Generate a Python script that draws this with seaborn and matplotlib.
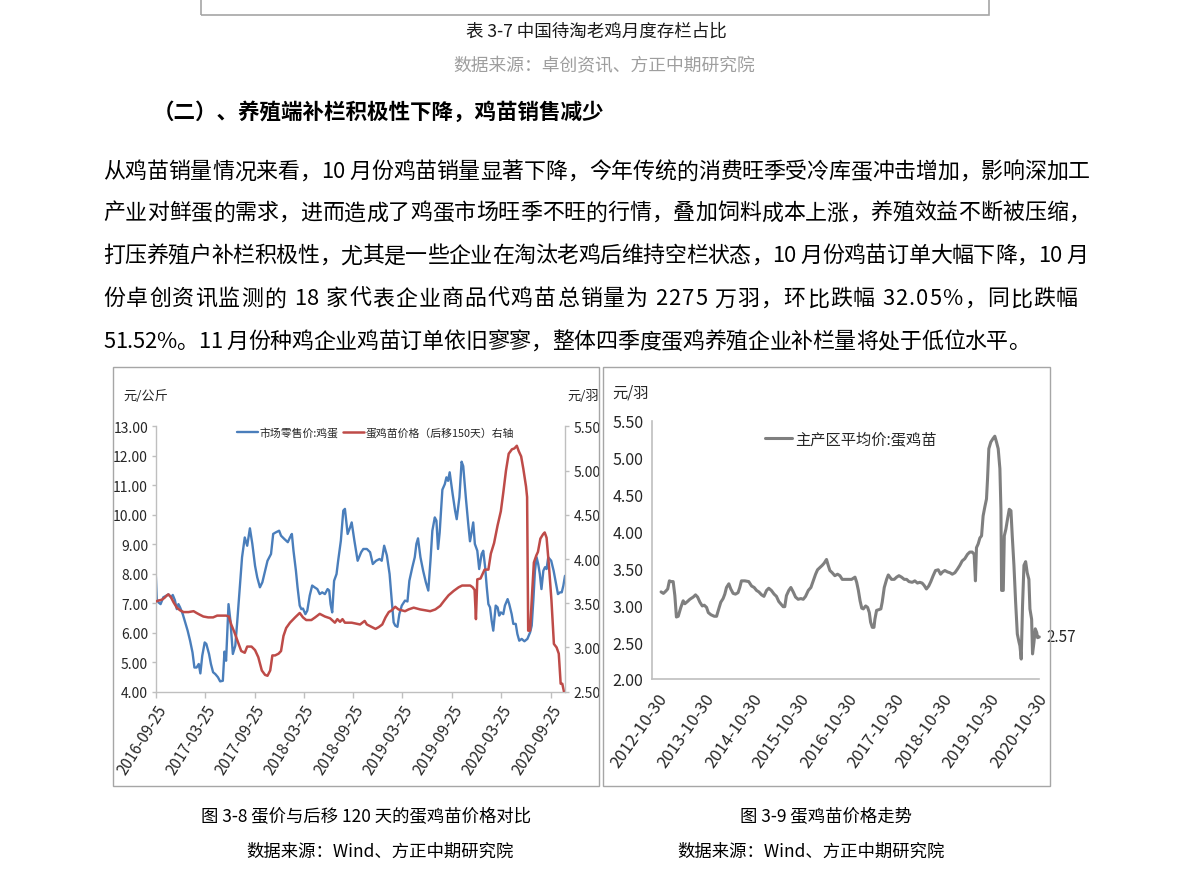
import matplotlib
matplotlib.use("Agg")
import matplotlib.pyplot as plt
from matplotlib.patches import Rectangle
from matplotlib.font_manager import FontProperties
from matplotlib.ticker import FormatStrFormatter
import seaborn as sns
import pandas as pd

# ---------------- data: left chart (egg retail price, yuan/kg) ----------------
egg_dates = [
    "2016-09-25", "2016-09-29", "2016-10-05", "2016-10-13", "2016-10-23", "2016-11-02", "2016-11-11", "2016-11-21", "2016-11-27", "2016-12-05",
    "2016-12-12", "2016-12-18", "2016-12-24", "2017-01-03", "2017-01-12", "2017-01-21", "2017-01-30", "2017-02-08", "2017-02-15", "2017-02-23",
    "2017-03-03", "2017-03-09", "2017-03-16", "2017-03-25", "2017-03-31", "2017-04-10", "2017-04-17", "2017-04-25", "2017-05-03", "2017-05-13",
    "2017-05-21", "2017-05-31", "2017-06-06", "2017-06-12", "2017-06-21", "2017-06-28", "2017-07-07", "2017-07-16", "2017-07-23", "2017-08-01",
    "2017-08-10", "2017-08-20", "2017-08-29", "2017-09-08", "2017-09-17", "2017-09-27", "2017-10-05", "2017-10-15", "2017-10-24", "2017-11-03",
    "2017-11-12", "2017-11-25", "2017-12-03", "2017-12-12", "2017-12-25", "2018-01-01", "2018-01-13", "2018-01-26", "2018-02-03", "2018-02-10",
    "2018-02-16", "2018-02-25", "2018-03-03", "2018-03-11", "2018-03-17", "2018-03-23", "2018-04-01", "2018-04-08", "2018-04-17", "2018-04-26",
    "2018-05-05", "2018-05-15", "2018-05-24", "2018-06-02", "2018-06-12", "2018-06-22", "2018-06-28", "2018-07-03", "2018-07-09", "2018-07-16",
    "2018-07-25", "2018-07-31", "2018-08-10", "2018-08-19", "2018-08-25", "2018-09-04", "2018-09-13", "2018-09-19", "2018-09-29", "2018-10-11",
    "2018-10-24", "2018-11-01", "2018-11-14", "2018-11-26", "2018-12-06", "2018-12-18", "2018-12-31", "2019-01-08", "2019-01-17", "2019-01-27",
    "2019-02-06", "2019-02-14", "2019-02-21", "2019-02-27", "2019-03-07", "2019-03-14", "2019-03-23", "2019-04-04", "2019-04-13", "2019-04-20",
    "2019-05-01", "2019-05-10", "2019-05-16", "2019-05-22", "2019-05-31", "2019-06-10", "2019-06-20", "2019-06-29", "2019-07-07", "2019-07-14",
    "2019-07-23", "2019-07-29", "2019-08-04", "2019-08-10", "2019-08-20", "2019-08-29", "2019-09-04", "2019-09-10", "2019-09-16", "2019-09-27",
    "2019-10-06", "2019-10-12", "2019-10-22", "2019-10-30", "2019-11-05", "2019-11-15", "2019-11-24", "2019-11-30", "2019-12-06", "2019-12-12",
    "2019-12-18", "2019-12-27", "2020-01-03", "2020-01-12", "2020-01-18", "2020-01-25", "2020-01-31", "2020-02-06", "2020-02-12", "2020-02-18",
    "2020-02-24", "2020-03-04", "2020-03-11", "2020-03-17", "2020-03-23", "2020-04-01", "2020-04-07", "2020-04-17", "2020-04-23", "2020-05-02",
    "2020-05-08", "2020-05-17", "2020-05-23", "2020-05-30", "2020-06-08", "2020-06-18", "2020-06-29", "2020-07-09", "2020-07-15", "2020-07-21",
    "2020-07-27", "2020-08-02", "2020-08-08", "2020-08-14", "2020-08-20", "2020-08-27", "2020-09-02", "2020-09-08", "2020-09-14", "2020-09-25",
    "2020-10-04", "2020-10-12", "2020-10-20", "2020-10-28", "2020-11-03", "2020-11-09", "2020-11-15",
]
egg_price = [
    8.05, 7.14, 7.03, 6.97, 7.20, 7.25, 7.30, 7.20, 7.28, 7.10,
    6.80, 6.97, 6.86, 6.63, 6.35, 6.07, 5.73, 5.33, 4.82, 4.82,
    4.94, 4.62, 5.22, 5.67, 5.62, 5.28, 4.94, 4.66, 4.60, 4.49,
    4.35, 4.37, 5.36, 5.05, 6.97, 6.41, 5.28, 5.56, 6.35, 7.48,
    8.56, 9.23, 8.95, 9.54, 9.01, 8.27, 7.88, 7.54, 7.71, 8.10,
    8.44, 8.67, 9.35, 9.40, 9.46, 9.29, 9.18, 9.07, 9.23, 9.35,
    8.78, 8.10, 7.54, 6.92, 6.80, 6.82, 6.63, 6.75, 7.26, 7.60,
    7.54, 7.48, 7.31, 7.37, 7.31, 7.48, 7.43, 6.97, 6.69, 7.76,
    7.99, 8.44, 9.12, 10.14, 10.20, 9.35, 9.57, 9.74, 9.12, 8.44,
    8.73, 8.84, 8.84, 8.73, 8.33, 8.44, 8.50, 8.44, 8.95, 8.62,
    7.99, 7.09, 6.35, 6.24, 6.20, 6.63, 6.92, 7.09, 7.06, 7.76,
    8.22, 8.56, 9.01, 9.20, 8.56, 8.10, 7.71, 7.43, 8.44, 9.46,
    9.91, 9.80, 8.84, 9.40, 10.85, 11.04, 11.27, 11.15, 11.44, 10.70,
    10.14, 9.85, 10.60, 11.80, 11.65, 10.55, 9.65, 9.10, 9.40, 9.74,
    9.01, 8.78, 8.16, 8.67, 8.78, 8.22, 7.54, 6.97, 6.86, 6.41,
    6.07, 6.92, 6.86, 6.58, 6.69, 6.63, 6.92, 7.14, 6.97, 6.63,
    6.30, 6.30, 5.96, 5.73, 5.79, 5.71, 5.79, 6.01, 6.24, 7.09,
    8.10, 8.56, 8.33, 7.99, 7.48, 8.10, 8.22, 8.16, 8.56, 8.44,
    8.10, 7.71, 7.31, 7.37, 7.37, 7.60, 7.93,
]

# ---------------- data: left chart (chick price shifted, yuan/chick, right axis) ----------------
chick_shift_dates = [
    "2016-09-25", "2016-10-05", "2016-10-18", "2016-10-27", "2016-11-06", "2016-11-11", "2016-11-20", "2016-11-30", "2016-12-12", "2016-12-24",
    "2017-01-06", "2017-01-24", "2017-02-12", "2017-02-23", "2017-03-07", "2017-03-20", "2017-04-07", "2017-04-25", "2017-05-10", "2017-05-26",
    "2017-06-12", "2017-06-22", "2017-07-01", "2017-07-13", "2017-07-26", "2017-08-07", "2017-08-20", "2017-08-29", "2017-09-14", "2017-09-27",
    "2017-10-09", "2017-10-22", "2017-11-03", "2017-11-12", "2017-11-22", "2017-11-30", "2017-12-10", "2017-12-23", "2018-01-01", "2018-01-10",
    "2018-01-20", "2018-02-03", "2018-02-22", "2018-03-11", "2018-03-23", "2018-04-04", "2018-04-23", "2018-05-07", "2018-05-24", "2018-06-12",
    "2018-07-01", "2018-07-19", "2018-07-28", "2018-08-07", "2018-08-16", "2018-08-25", "2018-09-19", "2018-10-20", "2018-11-06", "2018-11-14",
    "2018-12-03", "2018-12-16", "2018-12-28", "2019-01-10", "2019-01-22", "2019-02-03", "2019-02-14", "2019-02-27", "2019-03-11", "2019-04-04",
    "2019-04-17", "2019-05-06", "2019-05-30", "2019-06-18", "2019-07-06", "2019-07-25", "2019-08-12", "2019-08-27", "2019-09-12", "2019-10-01",
    "2019-10-19", "2019-11-01", "2019-11-19", "2019-12-01", "2019-12-10", "2019-12-17", "2019-12-22", "2019-12-27", "2020-01-08", "2020-01-17",
    "2020-01-23", "2020-02-06", "2020-02-15", "2020-02-27", "2020-03-11", "2020-03-23", "2020-04-01", "2020-04-11", "2020-04-21", "2020-05-03",
    "2020-05-12", "2020-05-21", "2020-05-28", "2020-06-06", "2020-06-14", "2020-06-24", "2020-06-28", "2020-07-02", "2020-07-09", "2020-07-17",
    "2020-07-23", "2020-08-01", "2020-08-07", "2020-08-16", "2020-08-26", "2020-09-01", "2020-09-08", "2020-09-17", "2020-09-26", "2020-10-05",
    "2020-10-15", "2020-10-23", "2020-10-30", "2020-11-05", "2020-11-12",
]
chick_shift_price = [
    3.52, 3.53, 3.54, 3.56, 3.59, 3.60, 3.57, 3.51, 3.45, 3.42,
    3.40, 3.40, 3.41, 3.39, 3.37, 3.35, 3.34, 3.34, 3.36, 3.36,
    3.36, 3.35, 3.26, 3.17, 3.06, 2.96, 2.94, 3.01, 3.01, 2.97,
    2.89, 2.74, 2.69, 2.68, 2.74, 2.91, 2.91, 2.93, 2.96, 3.13,
    3.22, 3.28, 3.34, 3.39, 3.34, 3.31, 3.31, 3.34, 3.38, 3.35,
    3.33, 3.28, 3.32, 3.29, 3.32, 3.28, 3.28, 3.26, 3.30, 3.26,
    3.23, 3.21, 3.23, 3.26, 3.34, 3.40, 3.42, 3.46, 3.43, 3.41,
    3.43, 3.45, 3.43, 3.42, 3.41, 3.43, 3.47, 3.53, 3.59, 3.64,
    3.68, 3.70, 3.70, 3.70, 3.68, 3.65, 3.32, 3.77, 3.78, 3.84,
    3.88, 3.88, 4.06, 4.18, 4.38, 4.54, 4.75, 5.00, 5.19, 5.24,
    5.25, 5.28, 5.22, 5.16, 5.02, 4.82, 4.70, 3.19, 3.19, 3.64,
    3.96, 4.04, 4.08, 4.23, 4.28, 4.30, 4.24, 3.91, 3.53, 3.04,
    3.00, 2.93, 2.59, 2.59, 2.49,
]

# ---------------- data: right chart (layer chick avg price, yuan/chick) ----------------
chick_dates = [
    "2012-12-03", "2012-12-21", "2013-01-08", "2013-01-23", "2013-02-05", "2013-02-18", "2013-03-06", "2013-03-19", "2013-03-31", "2013-04-14",
    "2013-05-04", "2013-05-22", "2013-06-04", "2013-06-24", "2013-07-12", "2013-08-07", "2013-08-25", "2013-09-10", "2013-09-28", "2013-10-16",
    "2013-10-31", "2013-11-18", "2013-12-01", "2013-12-22", "2014-01-16", "2014-02-03", "2014-02-16", "2014-03-07", "2014-03-25", "2014-04-07",
    "2014-04-20", "2014-05-08", "2014-05-23", "2014-06-10", "2014-06-28", "2014-07-18", "2014-07-31", "2014-08-13", "2014-09-08", "2014-10-08",
    "2014-10-30", "2014-11-19", "2014-12-07", "2014-12-25", "2015-01-15", "2015-02-02", "2015-02-22", "2015-03-11", "2015-03-31", "2015-04-21",
    "2015-05-09", "2015-05-27", "2015-06-11", "2015-06-30", "2015-07-12", "2015-07-25", "2015-08-12", "2015-08-28", "2015-09-15", "2015-10-03",
    "2015-10-23", "2015-11-13", "2015-12-01", "2015-12-19", "2016-01-09", "2016-01-29", "2016-02-16", "2016-03-05", "2016-03-20", "2016-04-07",
    "2016-04-25", "2016-05-10", "2016-05-28", "2016-06-10", "2016-06-23", "2016-07-11", "2016-07-31", "2016-08-21", "2016-09-08", "2016-09-26",
    "2016-10-16", "2016-11-11", "2016-12-07", "2017-01-02", "2017-01-15", "2017-01-28", "2017-02-10", "2017-02-23", "2017-03-07", "2017-03-25",
    "2017-04-09", "2017-04-22", "2017-05-02", "2017-05-15", "2017-05-28", "2017-06-04", "2017-06-17", "2017-07-05", "2017-07-20", "2017-07-30",
    "2017-08-15", "2017-09-02", "2017-09-15", "2017-09-28", "2017-10-10", "2017-10-31", "2017-11-18", "2017-12-06", "2017-12-26", "2018-01-16",
    "2018-02-03", "2018-02-21", "2018-03-18", "2018-04-07", "2018-04-27", "2018-05-15", "2018-06-02", "2018-06-17", "2018-07-05", "2018-07-23",
    "2018-08-08", "2018-08-26", "2018-09-13", "2018-10-04", "2018-10-22", "2018-11-06", "2018-11-24", "2018-12-15", "2019-01-02", "2019-01-20",
    "2019-02-09", "2019-03-01", "2019-03-19", "2019-04-06", "2019-04-26", "2019-05-17", "2019-06-04", "2019-06-22", "2019-07-07", "2019-07-17",
    "2019-07-25", "2019-08-07", "2019-08-20", "2019-09-02", "2019-09-14", "2019-09-27", "2019-10-10", "2019-10-18", "2019-10-28", "2019-11-12",
    "2019-11-30", "2019-12-13", "2019-12-26", "2020-01-08", "2020-01-21", "2020-01-29", "2020-02-03", "2020-02-16", "2020-02-24", "2020-03-07",
    "2020-03-20", "2020-04-02", "2020-04-15", "2020-04-25", "2020-05-08", "2020-05-21", "2020-06-03", "2020-06-16", "2020-06-23", "2020-07-03",
    "2020-07-13", "2020-07-24", "2020-08-06", "2020-08-18", "2020-08-31", "2020-09-08", "2020-09-21", "2020-09-28", "2020-10-09", "2020-10-19",
    "2020-10-30", "2020-11-06", "2020-11-19",
]
chick_price = [
    3.18, 3.16, 3.19, 3.22, 3.33, 3.32, 3.32, 3.13, 2.84, 2.85,
    2.97, 3.06, 3.02, 3.05, 3.08, 3.11, 3.14, 3.11, 3.04, 2.99,
    3.00, 2.97, 2.90, 2.87, 2.85, 2.85, 2.93, 3.04, 3.09, 3.15,
    3.24, 3.29, 3.22, 3.16, 3.15, 3.17, 3.24, 3.33, 3.33, 3.32,
    3.26, 3.24, 3.20, 3.18, 3.14, 3.12, 3.20, 3.23, 3.20, 3.15,
    3.12, 3.05, 3.02, 2.98, 2.98, 3.13, 3.20, 3.24, 3.18, 3.11,
    3.08, 3.09, 3.08, 3.12, 3.20, 3.24, 3.33, 3.42, 3.48, 3.51,
    3.54, 3.57, 3.62, 3.54, 3.47, 3.44, 3.40, 3.42, 3.40, 3.35,
    3.35, 3.35, 3.35, 3.38, 3.31, 3.20, 3.06, 2.96, 2.95, 2.99,
    2.97, 2.90, 2.77, 2.70, 2.70, 2.81, 2.93, 2.94, 2.95, 3.04,
    3.24, 3.35, 3.41, 3.38, 3.35, 3.35, 3.38, 3.40, 3.38, 3.35,
    3.35, 3.32, 3.31, 3.33, 3.30, 3.31, 3.30, 3.27, 3.22, 3.26,
    3.32, 3.40, 3.47, 3.48, 3.42, 3.45, 3.47, 3.45, 3.44, 3.42,
    3.44, 3.49, 3.54, 3.60, 3.63, 3.69, 3.72, 3.72, 3.69, 3.33,
    3.78, 3.83, 3.91, 3.94, 4.21, 4.33, 4.44, 4.71, 5.12, 5.21,
    5.26, 5.29, 5.21, 5.12, 4.85, 4.30, 3.20, 3.20, 3.94, 4.03,
    4.17, 4.30, 4.28, 3.94, 3.54, 3.04, 2.61, 2.50, 2.45, 2.27,
    2.99, 3.54, 3.59, 3.44, 3.35, 2.95, 2.81, 2.34, 2.50, 2.68,
    2.63, 2.56, 2.57,
]

left_ticks = ["2016-09-25", "2017-03-25", "2017-09-25", "2018-03-25", "2018-09-25",
              "2019-03-25", "2019-09-25", "2020-03-25", "2020-09-25"]
right_ticks = ["2012-10-30", "2013-10-30", "2014-10-30", "2015-10-30", "2016-10-30",
               "2017-10-30", "2018-10-30", "2019-10-30", "2020-10-30"]
left_legend = ["市场零售价:鸡蛋", "蛋鸡苗价格（后移150天）右轴"]
right_legend = ["主产区平均价:蛋鸡苗"]

table_caption = "表 3-7 中国待淘老鸡月度存栏占比"
table_source = "数据来源：卓创资讯、方正中期研究院"
heading = "（二）、养殖端补栏积极性下降，鸡苗销售减少"
body_lines = [
    "从鸡苗销量情况来看，10 月份鸡苗销量显著下降，今年传统的消费旺季受冷库蛋冲击增加，影响深加工",
    "产业对鲜蛋的需求，进而造成了鸡蛋市场旺季不旺的行情，叠加饲料成本上涨，养殖效益不断被压缩，",
    "打压养殖户补栏积极性，尤其是一些企业在淘汰老鸡后维持空栏状态，10 月份鸡苗订单大幅下降，10 月",
    "份卓创资讯监测的 18 家代表企业商品代鸡苗总销量为 2275 万羽，环比跌幅 32.05%，同比跌幅",
    "51.52%。11 月份种鸡企业鸡苗订单依旧寥寥，整体四季度蛋鸡养殖企业补栏量将处于低位水平。",
]
fig_captions = ["图 3-8 蛋价与后移 120 天的蛋鸡苗价格对比", "图 3-9 蛋鸡苗价格走势"]
fig_source = "数据来源：Wind、方正中期研究院"

# ---------------- style ----------------
sns.set_theme(style="white")
plt.rcParams["font.family"] = ["Liberation Sans Narrow", "Noto Sans CJK SC", "DejaVu Sans"]
plt.rcParams["axes.unicode_minus"] = False

BLUE = "#4A7EBB"
RED = "#BE4B48"
GRAY = "#7F7F7F"
SPINE = "#BFBFBF"
TXT = "#262626"
CJK = ["Noto Sans CJK SC", "DejaVu Sans"]

W, H = 1191, 879
fig = plt.figure(figsize=(W / 100, H / 100), dpi=100)
fig.patch.set_facecolor("white")


def fx(p):
    return p / W


def fy(p):
    return 1 - p / H


renderer = fig.canvas.get_renderer()


def advances(s, fp):
    base = renderer.get_text_width_height_descent("国国", fp, False)[0]
    return [renderer.get_text_width_height_descent("国" + ch + "国", fp, False)[0] - base for ch in s]


def justified(s, x0, x1, yc, size, color="black", weight="normal"):
    fp = FontProperties(family=CJK, size=size, weight=weight)
    adv = advances(s, fp)
    em = size * 100 / 72
    gap = (x1 - x0 - sum(adv)) / (len(s) - 1)
    x = x0
    yb = yc + 0.38 * em
    for ch, a in zip(s, adv):
        if ch.strip():
            fig.text(fx(x), fy(yb), ch, fontproperties=fp, color=color, ha="left", va="baseline")
        x += a + gap


def centered(s, cx, yc, size, color="black", weight="normal"):
    fp = FontProperties(family=CJK, size=size, weight=weight)
    em = size * 100 / 72
    fig.text(fx(cx), fy(yc + 0.38 * em), s, fontproperties=fp, color=color, ha="center", va="baseline")


# ---------------- page text & frames ----------------
fig.add_artist(Rectangle((fx(201), fy(16)), fx(989) - fx(201), 0.2, transform=fig.transFigure,
                         fill=False, ec="#A6A6A6", lw=1.2))
centered(table_caption, 596, 30, 12.6, color="#1a1a1a")
centered(table_source, 604, 64, 12.8, color="#9E9E9E")
fp_head = FontProperties(family=CJK, size=15.5, weight="bold")
fig.text(fx(153), fy(111 + 0.38 * 15.5 * 100 / 72), heading, fontproperties=fp_head, color="black",
         ha="left", va="baseline")

line_y = [170, 211, 254, 297, 340]
line_right = [1090, 1090, 1088, 1078, 1030]
for s, yc, xr in zip(body_lines, line_y, line_right):
    justified(s, 103, xr, yc, 15.8)

centered(fig_captions[0], 366, 815, 12.5)
centered(fig_source, 380, 850, 12.5)
centered(fig_captions[1], 826, 815, 12.5)
centered(fig_source, 811, 850, 12.5)

fig.add_artist(Rectangle((fx(112.5), fy(787)), fx(599) - fx(112.5), (787 - 368) / H,
                         transform=fig.transFigure, fill=False, ec="#A6A6A6", lw=1.0))
fig.add_artist(Rectangle((fx(603), fy(787)), fx(1050) - fx(603), (787 - 368) / H,
                         transform=fig.transFigure, fill=False, ec="#A6A6A6", lw=1.0))

# ---------------- left chart ----------------
egg_df = pd.DataFrame({"date": pd.to_datetime(egg_dates), "value": egg_price})
shift_df = pd.DataFrame({"date": pd.to_datetime(chick_shift_dates), "value": chick_shift_price})

ax1 = fig.add_axes([fx(155.7), fy(692.7), fx(565) - fx(155.7), (692.7 - 427.3) / H])
ax1.set_facecolor("none")
sns.lineplot(data=egg_df, x="date", y="value", ax=ax1, color=BLUE, lw=1.7, legend=False)
ax2 = ax1.twinx()
sns.lineplot(data=shift_df, x="date", y="value", ax=ax2, color=RED, lw=1.8, legend=False)

ax1.set_xlim(pd.Timestamp("2016-09-25"), pd.Timestamp("2020-11-15"))
ax1.set_ylim(4, 13)
ax2.set_ylim(2.5, 5.5)
ax1.set_yticks(range(4, 14))
ax2.set_yticks([2.5, 3.0, 3.5, 4.0, 4.5, 5.0, 5.5])
ax1.yaxis.set_major_formatter(FormatStrFormatter("%.2f"))
ax2.yaxis.set_major_formatter(FormatStrFormatter("%.2f"))
ax1.set_xticks(pd.to_datetime(left_ticks))
ax1.set_xticklabels(left_ticks, rotation=58, ha="right", rotation_mode="anchor")
for a in (ax1, ax2):
    a.set_xlabel("")
    a.set_ylabel("")
    for sp in a.spines.values():
        sp.set_color(SPINE)
        sp.set_linewidth(1.0)
ax1.spines["top"].set_visible(False)
ax1.spines["right"].set_visible(False)
ax2.spines["top"].set_visible(False)
ax2.spines["left"].set_visible(False)
ax2.spines["bottom"].set_visible(False)
ax1.tick_params(axis="x", direction="out", length=4, width=1, color=SPINE, labelsize=11, labelcolor=TXT, pad=3)
ax1.tick_params(axis="y", direction="out", length=3, width=1, color=SPINE, labelsize=10, labelcolor=TXT, pad=2.5)
ax2.tick_params(axis="y", direction="out", length=3, width=1, color=SPINE, labelsize=10, labelcolor=TXT, pad=3)
ax1.tick_params(axis="x", bottom=True)
ax1.tick_params(axis="y", left=True)
ax2.tick_params(axis="y", right=True)

ax2.legend([ax1.lines[0], ax2.lines[0]], left_legend, loc="center", bbox_to_anchor=(0.538, 0.979),
           ncol=2, frameon=False, fontsize=7.8, handlelength=1.9, handletextpad=0.2,
           columnspacing=0.4, borderpad=0, borderaxespad=0, labelcolor=TXT)
fig.text(fx(123), fy(397), "元/公斤", fontsize=9.5, color=TXT, ha="left", va="center")
fig.text(fx(567), fy(397), "元/羽", fontsize=9.5, color=TXT, ha="left", va="center")

# ---------------- right chart ----------------
chick_df = pd.DataFrame({"date": pd.to_datetime(chick_dates), "value": chick_price})
ax3 = fig.add_axes([fx(651.7), fy(680), fx(1039.3) - fx(651.7), (680 - 421.7) / H])
ax3.set_facecolor("none")
sns.lineplot(data=chick_df, x="date", y="value", ax=ax3, color=GRAY, lw=2.2, legend=False)
ax3.lines[0].set_clip_on(False)
ax3.set_xlim(pd.Timestamp("2012-09-22"), pd.Timestamp("2020-11-19"))
ax3.set_ylim(2, 5.5)
ax3.set_yticks([2.0, 2.5, 3.0, 3.5, 4.0, 4.5, 5.0, 5.5])
ax3.yaxis.set_major_formatter(FormatStrFormatter("%.2f"))
ax3.set_xticks(pd.to_datetime(right_ticks))
ax3.set_xticklabels(right_ticks, rotation=55, ha="right", rotation_mode="anchor")
ax3.set_xlabel("")
ax3.set_ylabel("")
for k in ("top", "right"):
    ax3.spines[k].set_visible(False)
for k in ("left", "bottom"):
    ax3.spines[k].set_color(SPINE)
    ax3.spines[k].set_linewidth(1.2)
ax3.tick_params(axis="both", length=0, labelcolor=TXT)
ax3.tick_params(axis="y", labelsize=11.5, pad=6)
ax3.tick_params(axis="x", labelsize=12, pad=8)
ax3.legend([ax3.lines[0]], right_legend, loc="center left", bbox_to_anchor=(0.292, 0.93),
           frameon=False, fontsize=11, handlelength=1.75, handletextpad=0.2,
           borderpad=0, borderaxespad=0, labelcolor=TXT)
ax3.annotate(f"{chick_price[-1]:.2f}", xy=(pd.Timestamp(chick_dates[-1]), chick_price[-1]),
             xytext=(5, 0), textcoords="offset points", ha="left", va="center",
             fontsize=11, color=TXT, annotation_clip=False)
fig.text(fx(612), fy(393), "元/羽", fontsize=11, color=TXT, ha="left", va="center")

fig.savefig("out.png", dpi=100)
